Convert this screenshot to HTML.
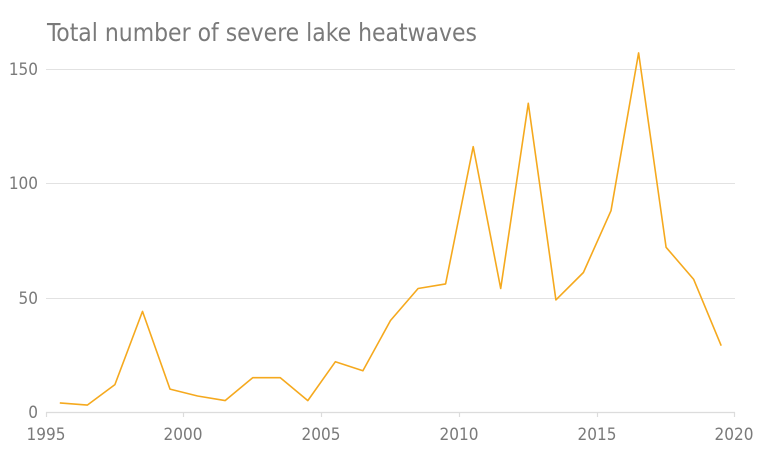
<!DOCTYPE html>
<html><head><meta charset="utf-8"><style>
html,body{margin:0;padding:0;background:#fff;width:768px;height:455px;overflow:hidden}
text{font-family:"Liberation Sans Narrow","DejaVu Sans Condensed","Liberation Sans",sans-serif;fill:#7a7a7a}
</style></head><body>
<svg width="768" height="455" xmlns="http://www.w3.org/2000/svg">
<text x="47" y="41" font-size="25" textLength="430" lengthAdjust="spacingAndGlyphs">Total number of severe lake heatwaves</text>
<g stroke="#e2e2e2" stroke-width="1">
<line x1="46" y1="69.5" x2="735" y2="69.5"/>
<line x1="46" y1="183.5" x2="735" y2="183.5"/>
<line x1="46" y1="298.5" x2="735" y2="298.5"/>
</g>
<g stroke="#dcdcdc" stroke-width="1.2">
<line x1="46" y1="412.5" x2="735" y2="412.5"/>
<line x1="46.5" y1="412" x2="46.5" y2="417"/>
<line x1="183.5" y1="412" x2="183.5" y2="417"/>
<line x1="321.5" y1="412" x2="321.5" y2="417"/>
<line x1="459.5" y1="412" x2="459.5" y2="417"/>
<line x1="597.5" y1="412" x2="597.5" y2="417"/>
<line x1="734.5" y1="412" x2="734.5" y2="417"/>
</g>
<g font-size="17" text-anchor="end">
<text x="38" y="75">150</text>
<text x="38" y="189">100</text>
<text x="38" y="304">50</text>
<text x="38" y="418">0</text>
</g>
<g font-size="17" text-anchor="middle">
<text x="46" y="440">1995</text>
<text x="183" y="440">2000</text>
<text x="321" y="440">2005</text>
<text x="459" y="440">2010</text>
<text x="597" y="440">2015</text>
<text x="734" y="440">2020</text>
</g>
<polyline fill="none" stroke="#f5a91e" stroke-width="1.6" stroke-linejoin="round" points="59.8,402.9 87.3,405.1 114.9,384.6 142.5,311.4 170,389.1 197.6,396 225.1,400.6 252.7,377.7 280.3,377.7 307.8,400.6 335.4,361.7 362.9,370.8 390.5,320.5 418.1,288.5 445.6,283.9 473.2,146.7 500.7,288.5 528.3,103.3 555.9,299.9 583.4,272.5 611,210.7 638.6,52.9 666.1,247.3 693.7,279.4 721.2,345.7"/>
</svg>
</body></html>
